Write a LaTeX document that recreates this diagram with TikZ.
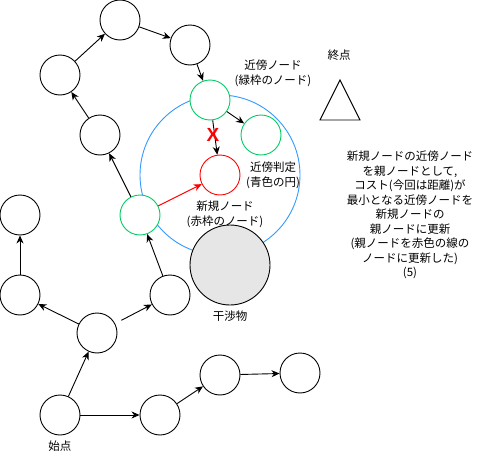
\documentclass[tikz,border=0pt]{standalone}
\usepackage{fontspec}
\setmainfont{Noto Sans CJK JP}
\newfontfamily\markfont{Liberation Sans}
\usetikzlibrary{positioning, arrows.meta}

\definecolor{nodegreen}{RGB}{0,204,102}
\definecolor{areablue}{RGB}{51,153,255}
\definecolor{obstgray}{RGB}{230,230,230}

\begin{document}
\begin{tikzpicture}[x=1pt, y=-1pt, line width=0.9pt,
        >={Stealth[length=8pt, width=7pt, inset=2.5pt]},
        every node/.style={font=\fontsize{11.5}{15}\selectfont},
        vertex/.style={circle, draw, fill=white, minimum size=40pt, inner sep=0pt},
        near/.style={vertex, draw=nodegreen},
        newnode/.style={vertex, draw=red},
        caption/.style={align=center, inner sep=1pt}]
        \useasboundingbox (0,0) rectangle (491,466);
        % neighbourhood and obstacle
        \draw[areablue] (220,175) circle (80);
        \node[vertex, fill=obstgray, minimum size=80pt] (obst) at (230,265) {};
        % tree nodes
        \node[vertex] (start) at (60,415) {};
        \node[vertex] (n_1) at (160,415) {};
        \node[vertex] (n_2) at (220,375) {};
        \node[vertex] (n_3) at (300,373) {};
        \node[vertex] (n_4) at (97,333) {};
        \node[vertex] (n_5) at (20,295) {};
        \node[vertex] (n_6) at (20,215) {};
        \node[vertex] (n_7) at (170,295) {};
        \node[near] (near_1) at (140,215) {};
        \node[vertex] (n_8) at (100,135) {};
        \node[vertex] (n_9) at (60,75) {};
        \node[vertex] (n_10) at (120,20) {};
        \node[vertex] (n_11) at (190,45) {};
        \node[near] (near_2) at (210,100) {};
        \node[near] (near_3) at (261,135) {};
        \node[newnode] (new) at (220,175) {};
        % goal
        \coordinate (goal) at (340,80);
        \draw (goal) -- (360,120) -- (320,120) -- cycle;
        % captions
        \node[caption] [below=4pt of start] {始点};
        \node[caption] (goal_txt) at (339,55) {終点};
        \node[caption] [below=4pt of obst] {干渉物};
        \node[caption] at (273,73) {近傍ノード\\(緑枠のノード)};
        \node[caption] at (273,175) {近傍判定\\(青色の円)};
        \node[caption] at (225,214) {新規ノード\\(赤枠のノード)};
        \node[caption, font=\fontsize{11.5}{14.5}\selectfont] at (410,215)
                {新規ノードの近傍ノード\\を親ノードとして,\\コスト(今回は距離)が\\最小となる近傍ノードを\\新規ノードの\\親ノードに更新\\(親ノードを赤色の線の\\ノードに更新した)\\(5)};
        % edges
        \path[->]
                (start) edge (n_1)
                    edge (n_4)
                (n_1) edge (n_2)
                (n_2) edge (n_3)
                (n_4) edge (n_5)
                    edge [shorten <=7pt] (n_7)
                (n_5) edge (n_6)
                (n_7) edge (near_1)
                (near_1) edge (n_8)
                (n_8) edge (n_9)
                (n_9) edge (n_10)
                (n_10) edge (n_11)
                (n_11) edge (near_2)
                (near_2) edge (near_3)
                    edge (new);
        \draw[->, red] (near_1) -- (new);
        % rejected parent
        \node[text=red, inner sep=0pt, font=\markfont\bfseries\fontsize{19}{19}\selectfont] (cut) at (213,135) {X};
\end{tikzpicture}
\end{document}
